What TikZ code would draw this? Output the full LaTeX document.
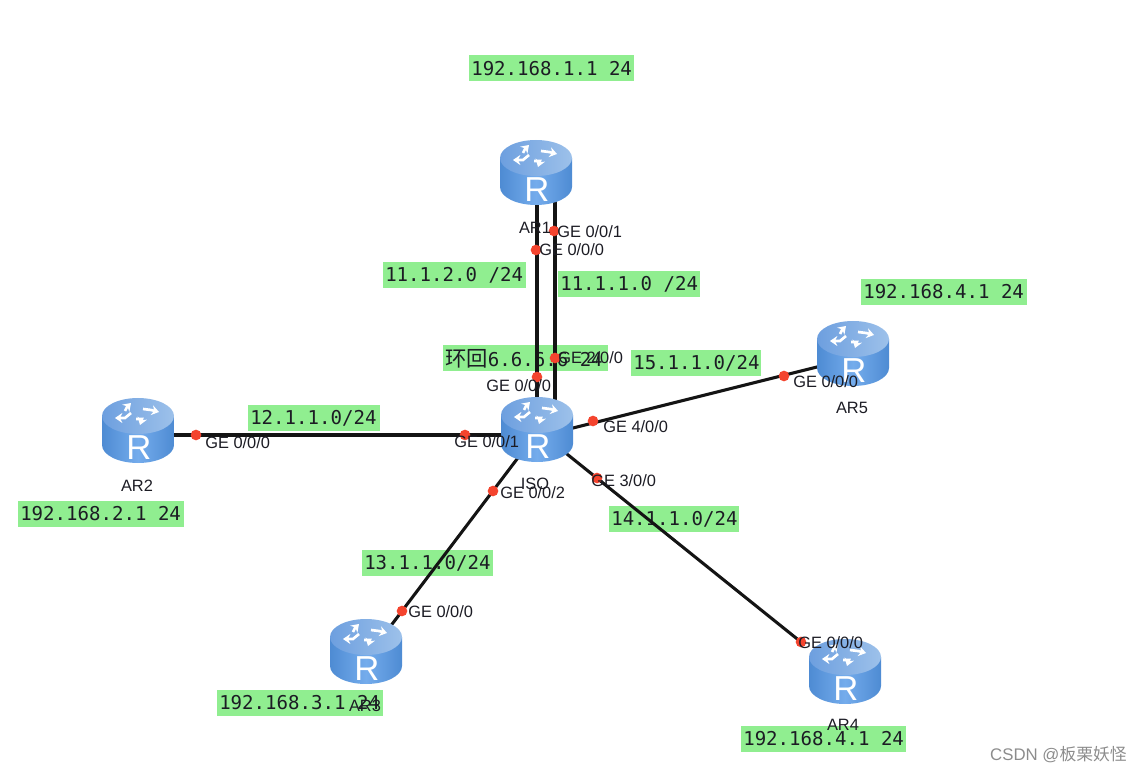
\documentclass[tikz,border=0pt]{standalone}
\usepackage{fontspec}
\setmainfont{Liberation Sans}
\newfontfamily\monofnt{DejaVu Sans Mono}
\newfontfamily\cjkfnt{Noto Sans CJK SC}
\usetikzlibrary{backgrounds,arrows.meta}
\definecolor{lblgreen}{HTML}{90EE90}
\definecolor{rside}{HTML}{4E8BD3}
\definecolor{rmid}{HTML}{74ACEC}
\definecolor{rtopa}{HTML}{6D9FDF}
\definecolor{rtopb}{HTML}{9DC1EA}
\definecolor{inktxt}{HTML}{1C1C24}
\definecolor{dotred}{HTML}{F4442E}
\tikzset{
  x=0.75pt,y=-0.75pt,
  routerbox/.style={rectangle,minimum width=54pt,minimum height=48pt,inner sep=0pt},
  routername/.style={font=\fontsize{12.3}{14}\selectfont,text=inktxt,inner sep=0pt},
  portlabel/.style={font=\fontsize{12.3}{14}\selectfont,text=inktxt,anchor=west,inner sep=0pt},
  portdot/.style={circle,fill=dotred,minimum size=8pt,inner sep=0pt},
  netlabel/.style={fill=lblgreen,font=\monofnt\fontsize{14.3}{16}\selectfont,text=inktxt,inner sep=0pt,minimum height=19.5pt,anchor=west},
  linkline/.style={line width=2.3pt,draw=black!92},
  arrowline/.style={white,line width=2pt,-{Stealth[length=5.5pt,width=7.5pt]}}
}
\newcommand{\netbox}[2]{\makebox[#1][l]{\hspace*{1.5pt}#2}}
\newcommand{\routerat}[3]{%
  \node[routerbox] (#1) at (#2,#3) {};
  \begin{scope}[shift={(#2,#3)}]
    \path[left color=rside,right color=rside,middle color=rmid]
      (-36,-15) -- (-36,14) arc[start angle=180,end angle=0,x radius=36,y radius=18] -- (36,-15) -- cycle;
    \path[left color=rtopa,right color=rtopb] (0,-15) ellipse[x radius=36,y radius=18];
    \draw[arrowline] (-13,-20) -- (-11,-24) -- (-7,-28);
    \draw[arrowline] (5,-22) -- (13,-21) -- (21,-19);
    \draw[arrowline] (-2,-12) -- (4,-12) -- (2,-6);
    \draw[arrowline] (-7,-18) -- (-13,-13) -- (-23,-13);
    \node[text=white,inner sep=0pt,font=\fontsize{26}{28}\selectfont] (#1R) at (1,17) {R};
  \end{scope}
}
\begin{document}
\begin{tikzpicture}
\useasboundingbox (0,0) rectangle (1142,773);
% routers
\routerat{arone}{536}{173}
\routerat{artwo}{138}{431}
\routerat{arthree}{366}{652}
\routerat{arfour}{845}{672}
\routerat{arfive}{853}{354}
\routerat{iso}{537}{430}
% port dots
\node[portdot] (d1) at (554,231) {};
\node[portdot] (d2) at (536,250) {};
\node[portdot] (d3) at (555,358) {};
\node[portdot] (d4) at (537,377) {};
\node[portdot] (d5) at (593,421) {};
\node[portdot] (d6) at (784,376) {};
\node[portdot] (d7) at (465,435) {};
\node[portdot] (d8) at (196,435) {};
\node[portdot] (d9) at (597,478) {};
\node[portdot] (d10) at (801,642) {};
\node[portdot] (d11) at (493,491) {};
\node[portdot] (d12) at (402,611) {};
% net labels and links under the routers
\begin{scope}[on background layer]
  \node[netlabel] (n1) at (469,68.5) {\netbox{123.75pt}{192.168.1.1 24}};
  \node[netlabel] (n2) at (383,275) {\netbox{107.25pt}{11.1.2.0 /24}};
  \node[netlabel] (n3) at (558,284) {\netbox{106.5pt}{11.1.1.0 /24}};
  \node[netlabel] (n4) at (861,292) {\netbox{124.5pt}{192.168.4.1 24}};
  \node[netlabel] (n5) at (443,358.5) {\netbox{123.75pt}{{\cjkfnt\fontsize{16}{17}\selectfont 环回}6.6.6.6 24}};
  \node[netlabel] (n6) at (631,363) {\netbox{97.5pt}{15.1.1.0/24}};
  \node[netlabel] (n7) at (248,418) {\netbox{99pt}{12.1.1.0/24}};
  \node[netlabel] (n8) at (18,514) {\netbox{124.5pt}{192.168.2.1 24}};
  \node[netlabel] (n9) at (609,519) {\netbox{97.5pt}{14.1.1.0/24}};
  \node[netlabel] (n10) at (362,563) {\netbox{98.25pt}{13.1.1.0/24}};
  \node[netlabel] (n11) at (217,703) {\netbox{124.5pt}{192.168.3.1 24}};
  \node[netlabel] (n12) at (741,739) {\netbox{123.75pt}{192.168.4.1 24}};
  \draw[linkline] ([xshift=0.75pt]arone.center) -- ([xshift=0pt]iso.center);
  \draw[linkline] ([xshift=14.25pt]arone.center) -- ([xshift=13.5pt]iso.center);
  \draw[linkline] ([yshift=-3pt]artwo.center) -- ([yshift=-3.75pt]iso.center);
  \draw[linkline] ([yshift=-5.25pt]iso.center) -- ([yshift=-3pt]arfive.center);
  \draw[linkline] ([xshift=1.5pt]iso.center) -- ([xshift=3.75pt]arthree.center);
  \draw[linkline] (iso.center) -- (d10.center);
\end{scope}
% port labels
\node[portlabel] (p1) at (557,232) {GE 0/0/1};
\node[portlabel] (p2) at (539,250) {GE 0/0/0};
\node[portlabel] (p3) at (558,358) {GE 2/0/0};
\node[portlabel] (p4) at (486,386) {GE 0/0/0};
\node[portlabel] (p5) at (603,427) {GE 4/0/0};
\node[portlabel] (p6) at (793,382) {GE 0/0/0};
\node[portlabel] (p7) at (454,442) {GE 0/0/1};
\node[portlabel] (p8) at (205,443) {GE 0/0/0};
\node[portlabel] (p9) at (591,481) {GE 3/0/0};
\node[portlabel] (p10) at (798,643) {GE 0/0/0};
\node[portlabel] (p11) at (500,493) {GE 0/0/2};
\node[portlabel] (p12) at (408,612) {GE 0/0/0};
% router names
\node[routername] (t1) at (535,228) {AR1};
\node[routername] (t2) at (137,486) {AR2};
\node[routername] (t3) at (365,706) {AR3};
\node[routername] (t4) at (843,725) {AR4};
\node[routername] (t5) at (852,408) {AR5};
\node[routername] (t6) at (535,484) {ISO};
% watermark
\node[inner sep=0pt,anchor=east,text=black!45,font=\fontsize{12.6}{14}\selectfont] (wm) at (1127,755) {CSDN @{\cjkfnt 板栗妖怪}};
\end{tikzpicture}
\end{document}
